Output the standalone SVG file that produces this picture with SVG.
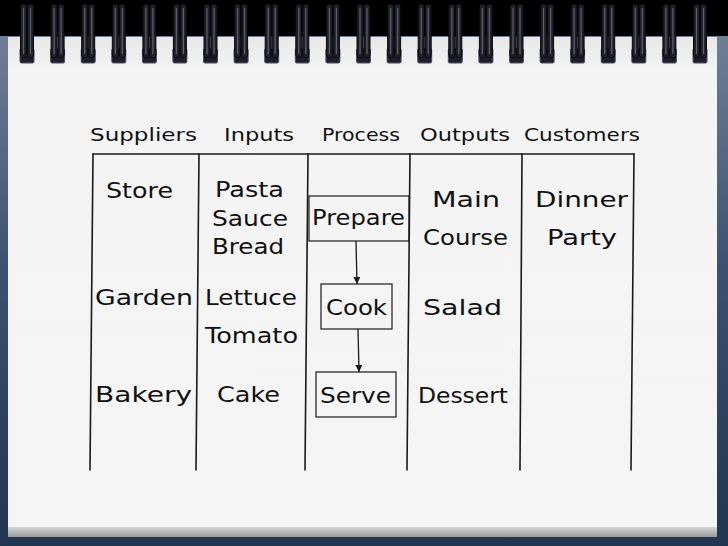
<svg xmlns="http://www.w3.org/2000/svg" xmlns:xlink="http://www.w3.org/1999/xlink" width="728" height="546" viewBox="0 0 728 546">
  <style>
    .hdr { font-family: "DejaVu Sans", "Liberation Sans", sans-serif; font-size: 17.5px; fill: #111; }
    .txt { font-family: "DejaVu Sans", "Liberation Sans", sans-serif; font-size: 21px; fill: #111; }
    .grid { stroke: #1a1a1a; stroke-width: 1.6; fill: none; stroke-linecap: round; }
    .box { stroke: #1a1a1a; stroke-width: 1.2; fill: none; }
    .conn { stroke: #1a1a1a; stroke-width: 1.3; fill: none; }
  </style>
  <defs>
    <linearGradient id="side" x1="0" y1="0" x2="0" y2="1">
      <stop offset="0" stop-color="#6f7f95"/>
      <stop offset="0.45" stop-color="#3d5272"/>
      <stop offset="1" stop-color="#223552"/>
    </linearGradient>
    <linearGradient id="stack" x1="0" y1="0" x2="0" y2="1">
      <stop offset="0" stop-color="#d6d6d6"/>
      <stop offset="1" stop-color="#9a9a9a"/>
    </linearGradient>
    <linearGradient id="paper" x1="0" y1="0" x2="0" y2="1">
      <stop offset="0" stop-color="#e8e8e8"/>
      <stop offset="0.07" stop-color="#f4f4f4"/>
      <stop offset="1" stop-color="#f5f5f5"/>
    </linearGradient>
    <marker id="arrow" viewBox="0 0 10 10" refX="10" refY="5" markerWidth="7" markerHeight="7" markerUnits="userSpaceOnUse" orient="auto">
      <path d="M0,0 L10,5 L0,10 z" fill="#1a1a1a"/>
    </marker>
    <g id="ring">
      <rect x="-7" y="48.5" width="14" height="14.5" rx="1.5" fill="#1e1e28" stroke="#46506a" stroke-width="1"/>
      <rect x="-6.5" y="4" width="6" height="54" rx="3" fill="#202028" stroke="#08080c" stroke-width="1"/>
      <rect x="0.5" y="4" width="6" height="54" rx="3" fill="#202028" stroke="#08080c" stroke-width="1"/>
      <line x1="-3.5" y1="8" x2="-3.5" y2="54" stroke="#5c6170" stroke-width="1.2"/>
      <line x1="3.5" y1="8" x2="3.5" y2="54" stroke="#5c6170" stroke-width="1.2"/>
    </g>
  </defs>

  <!-- background and notebook -->
  <rect x="0" y="0" width="728" height="546" fill="#000"/>
  <rect x="0" y="36" width="728" height="510" fill="url(#side)"/>
  <rect x="8" y="37" width="709" height="490" fill="url(#paper)"/>
  <rect x="8" y="527" width="709" height="10" fill="url(#stack)"/>

  <!-- spiral binding -->
  <g id="binding">
    <use xlink:href="#ring" href="#ring" x="27" y="0"/>
    <use xlink:href="#ring" href="#ring" x="57.6" y="0"/>
    <use xlink:href="#ring" href="#ring" x="88.2" y="0"/>
    <use xlink:href="#ring" href="#ring" x="118.8" y="0"/>
    <use xlink:href="#ring" href="#ring" x="149.4" y="0"/>
    <use xlink:href="#ring" href="#ring" x="179.9" y="0"/>
    <use xlink:href="#ring" href="#ring" x="210.5" y="0"/>
    <use xlink:href="#ring" href="#ring" x="241.1" y="0"/>
    <use xlink:href="#ring" href="#ring" x="271.7" y="0"/>
    <use xlink:href="#ring" href="#ring" x="302.3" y="0"/>
    <use xlink:href="#ring" href="#ring" x="332.9" y="0"/>
    <use xlink:href="#ring" href="#ring" x="363.5" y="0"/>
    <use xlink:href="#ring" href="#ring" x="394.1" y="0"/>
    <use xlink:href="#ring" href="#ring" x="424.7" y="0"/>
    <use xlink:href="#ring" href="#ring" x="455.3" y="0"/>
    <use xlink:href="#ring" href="#ring" x="485.9" y="0"/>
    <use xlink:href="#ring" href="#ring" x="516.5" y="0"/>
    <use xlink:href="#ring" href="#ring" x="547.1" y="0"/>
    <use xlink:href="#ring" href="#ring" x="577.6" y="0"/>
    <use xlink:href="#ring" href="#ring" x="608.2" y="0"/>
    <use xlink:href="#ring" href="#ring" x="638.8" y="0"/>
    <use xlink:href="#ring" href="#ring" x="669.4" y="0"/>
    <use xlink:href="#ring" href="#ring" x="700" y="0"/>
  </g>

  <!-- table grid -->
  <g id="grid">
    <line class="grid" x1="93" y1="154" x2="634" y2="154"/>
    <line class="grid" x1="93" y1="154" x2="90" y2="470"/>
    <line class="grid" x1="199" y1="154" x2="196" y2="470"/>
    <line class="grid" x1="308" y1="154" x2="305" y2="470"/>
    <line class="grid" x1="410" y1="154" x2="407" y2="470"/>
    <line class="grid" x1="522" y1="154" x2="520" y2="470"/>
    <line class="grid" x1="634" y1="154" x2="631" y2="470"/>
  </g>

  <!-- column headers -->
  <g id="headers">
    <text class="hdr" x="90" y="141" textLength="107" lengthAdjust="spacingAndGlyphs">Suppliers</text>
    <text class="hdr" x="224" y="141" textLength="70" lengthAdjust="spacingAndGlyphs">Inputs</text>
    <text class="hdr" x="322" y="141" textLength="78" lengthAdjust="spacingAndGlyphs">Process</text>
    <text class="hdr" x="420" y="141" textLength="90" lengthAdjust="spacingAndGlyphs">Outputs</text>
    <text class="hdr" x="524" y="141" textLength="116" lengthAdjust="spacingAndGlyphs">Customers</text>
  </g>

  <!-- suppliers -->
  <g id="store"><text class="txt" x="106" y="198" textLength="67" lengthAdjust="spacingAndGlyphs">Store</text></g>
  <g id="garden"><text class="txt" x="95" y="305" textLength="98" lengthAdjust="spacingAndGlyphs">Garden</text></g>
  <g id="bakery"><text class="txt" x="95" y="402" textLength="97" lengthAdjust="spacingAndGlyphs">Bakery</text></g>

  <!-- inputs -->
  <g id="pasta"><text class="txt" x="215" y="197" textLength="69" lengthAdjust="spacingAndGlyphs">Pasta</text></g>
  <g id="sauce"><text class="txt" x="212" y="226" textLength="76" lengthAdjust="spacingAndGlyphs">Sauce</text></g>
  <g id="bread"><text class="txt" x="212" y="254" textLength="72" lengthAdjust="spacingAndGlyphs">Bread</text></g>
  <g id="lettuce"><text class="txt" x="205" y="305" textLength="92" lengthAdjust="spacingAndGlyphs">Lettuce</text></g>
  <g id="tomato"><text class="txt" x="205" y="343" textLength="93" lengthAdjust="spacingAndGlyphs">Tomato</text></g>
  <g id="cake"><text class="txt" x="217" y="402" textLength="63" lengthAdjust="spacingAndGlyphs">Cake</text></g>

  <!-- process -->
  <g id="prepare">
    <rect class="box" x="309" y="196" width="100" height="45"/>
    <text class="txt" x="312" y="225" textLength="93" lengthAdjust="spacingAndGlyphs">Prepare</text>
  </g>
  <g id="cook">
    <rect class="box" x="321" y="284" width="71" height="45"/>
    <text class="txt" x="326" y="315" textLength="61" lengthAdjust="spacingAndGlyphs">Cook</text>
  </g>
  <g id="serve">
    <rect class="box" x="316" y="372" width="80" height="45"/>
    <text class="txt" x="320" y="403" textLength="71" lengthAdjust="spacingAndGlyphs">Serve</text>
  </g>

  <!-- outputs -->
  <g id="main-course">
    <text class="txt" x="432" y="207" textLength="68" lengthAdjust="spacingAndGlyphs">Main</text>
    <text class="txt" x="423" y="245" textLength="85" lengthAdjust="spacingAndGlyphs">Course</text>
  </g>
  <g id="salad"><text class="txt" x="423" y="315" textLength="79" lengthAdjust="spacingAndGlyphs">Salad</text></g>
  <g id="dessert"><text class="txt" x="418" y="403" textLength="90" lengthAdjust="spacingAndGlyphs">Dessert</text></g>

  <!-- customers -->
  <g id="dinner-party">
    <text class="txt" x="535" y="207" textLength="93" lengthAdjust="spacingAndGlyphs">Dinner</text>
    <text class="txt" x="547" y="245" textLength="70" lengthAdjust="spacingAndGlyphs">Party</text>
  </g>

  <!-- connectors -->
  <g id="connectors">
    <line class="conn" x1="356" y1="241" x2="357" y2="284" marker-end="url(#arrow)"/>
    <line class="conn" x1="358" y1="329" x2="359" y2="372" marker-end="url(#arrow)"/>
  </g>
</svg>
